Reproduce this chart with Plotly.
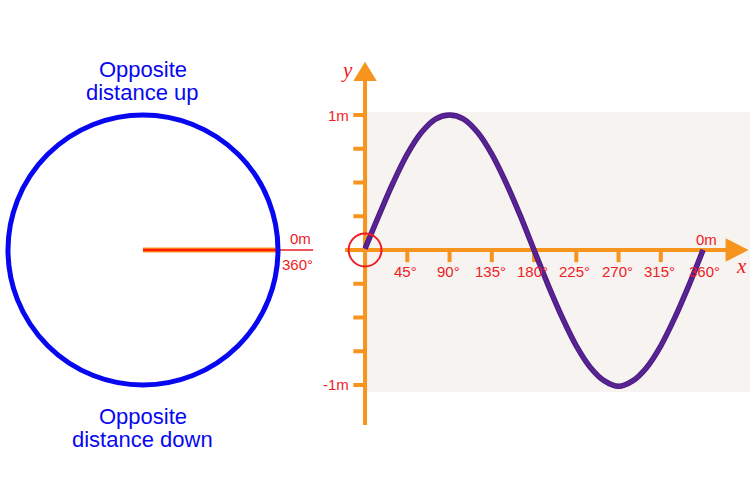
import plotly.graph_objects as go

# ---- data ----
angles_deg = [0, 15, 30, 45, 60, 75, 90, 105, 120, 135, 150, 165, 180,
              195, 210, 225, 240, 255, 270, 285, 300, 315, 330, 345, 360]
opposite_m = [0.01, 0.26, 0.5, 0.71, 0.87, 0.97, 1.0, 0.97, 0.87, 0.71, 0.5, 0.26, 0.0,
              -0.26, -0.5, -0.71, -0.87, -0.97, -1.01, -0.97, -0.87, -0.71, -0.5, -0.26, 0.0]
x_tick_vals = [45, 90, 135, 180, 225, 270, 315, 360]
x_tick_text = ["45°", "90°", "135°", "180°", "225°", "270°", "315°", "360°"]
y_tick_vals = [1.0, 0.75, 0.5, 0.25, -0.25, -0.5, -0.75, -1.0]
y_label_vals = [1.0, -1.0]
y_label_text = ["1m", "-1m"]
circle_radius = 1.0
radius_line_x = [0, 1.0]
radius_line_y = [0, 0]

ORANGE = "#f7941d"
RED = "#ee1c25"
BLUE = "#0808f0"
PURPLE = "#5a2394"
FONT = "Arial, Liberation Sans, sans-serif"

fig = go.Figure()

# sine curve (right)
fig.add_trace(go.Scatter(x=angles_deg, y=opposite_m, mode="lines",
                         line=dict(color="#4a1a80", width=5.5, shape="spline", smoothing=1.0),
                         hoverinfo="skip", xaxis="x", yaxis="y"))
fig.add_trace(go.Scatter(x=angles_deg, y=opposite_m, mode="lines",
                         line=dict(color=PURPLE, width=3.5, shape="spline", smoothing=1.0),
                         hoverinfo="skip", xaxis="x", yaxis="y"))

# radius line (left)
fig.add_trace(go.Scatter(x=radius_line_x, y=radius_line_y, mode="lines",
                         line=dict(color="#ff9a1a", width=5), hoverinfo="skip",
                         xaxis="x2", yaxis="y"))
fig.add_trace(go.Scatter(x=radius_line_x, y=radius_line_y, mode="lines",
                         line=dict(color="#ff1a00", width=2.5), hoverinfo="skip",
                         xaxis="x2", yaxis="y"))
fig.add_trace(go.Scatter(x=[radius_line_x[1], 1.26], y=[0, 0], mode="lines",
                         line=dict(color=RED, width=1.6), hoverinfo="skip",
                         xaxis="x2", yaxis="y"))

shapes = []
# beige background
shapes.append(dict(type="rect", xref="x", yref="y", x0=2, x1=420, y0=-1.052, y1=1.022,
                   fillcolor="#f6f3f0", line=dict(width=0), layer="below"))
# axes lines
shapes.append(dict(type="line", xref="x", yref="y", x0=0, x1=0, y0=-1.296, y1=1.26,
                   line=dict(color=ORANGE, width=4), layer="below"))
shapes.append(dict(type="line", xref="x", yref="y", x0=-21.3, x1=387, y0=0, y1=0,
                   line=dict(color=ORANGE, width=4), layer="below"))
# arrow heads
shapes.append(dict(type="path", xref="x", yref="y",
                   path="M -12.5,1.252 L 0,1.395 L 12.5,1.252 Z",
                   fillcolor=ORANGE, line=dict(width=0), layer="below"))
shapes.append(dict(type="path", xref="x", yref="y",
                   path="M 384,0.087 L 408.5,0 L 384,-0.087 Z",
                   fillcolor=ORANGE, line=dict(width=0), layer="below"))
# y ticks
for v in y_tick_vals:
    shapes.append(dict(type="line", xref="x", yref="y", x0=-12.5, x1=0, y0=v, y1=v,
                       line=dict(color=ORANGE, width=4), layer="below"))
# x ticks
for v in x_tick_vals[:-1]:
    shapes.append(dict(type="line", xref="x", yref="y", x0=v, x1=v, y0=0, y1=-0.09,
                       line=dict(color=ORANGE, width=4), layer="below"))
# red circle at origin
shapes.append(dict(type="circle", xref="x", yref="y", x0=-17.5, x1=17.5, y0=-0.122, y1=0.122,
                   line=dict(color=RED, width=2), layer="above"))
# blue circle (left)
shapes.append(dict(type="circle", xref="x2", yref="y",
                   x0=-circle_radius, x1=circle_radius, y0=-circle_radius, y1=circle_radius,
                   line=dict(color=BLUE, width=5), layer="above"))

ann = []
def txt(x, y, s, xref="x", size=15, color=RED, xanchor="center", family=FONT):
    ann.append(dict(x=x, y=y, xref=xref, yref="y", text=s, showarrow=False,
                    xanchor=xanchor, yanchor="middle",
                    font=dict(family=family, size=size, color=color)))

for v, t in zip(x_tick_vals, x_tick_text):
    txt(v + (2 if v == 360 else -1.5), -0.158, t)
for v, t in zip(y_label_vals, y_label_text):
    txt(-15, v, t, xanchor="right")
txt(364, 0.076, "0m")
txt(-19, 1.335, "<i>y</i>", size=21, family="Liberation Serif, serif")
txt(401, -0.118, "<i>x</i>", size=21, family="Liberation Serif, serif")

txt(1.17, 0.083, "0m", xref="x2")
txt(1.148, -0.11, "360°", xref="x2")
txt(0, 1.335, "Opposite", xref="x2", size=22, color=BLUE)
txt(0, 1.165, "distance up", xref="x2", size=22, color=BLUE)
txt(0, -1.232, "Opposite", xref="x2", size=22, color=BLUE)
txt(0, -1.405, "distance down", xref="x2", size=22, color=BLUE)

fig.update_layout(
    width=750, height=500,
    margin=dict(l=0, r=0, t=0, b=0),
    paper_bgcolor="white", plot_bgcolor="white",
    showlegend=False,
    xaxis=dict(range=[-388.8, 410.0], visible=False, fixedrange=True, domain=[0, 1]),
    xaxis2=dict(range=[-1.059, 4.496], visible=False, fixedrange=True,
                overlaying="x", anchor="y"),
    yaxis=dict(range=[-1.852, 1.852], visible=False, fixedrange=True, domain=[0, 1]),
    shapes=shapes,
    annotations=ann,
)

fig.write_html("out.html", config={"displayModeBar": False},
               post_script="document.body.style.margin='0';document.body.style.overflow='hidden';")
